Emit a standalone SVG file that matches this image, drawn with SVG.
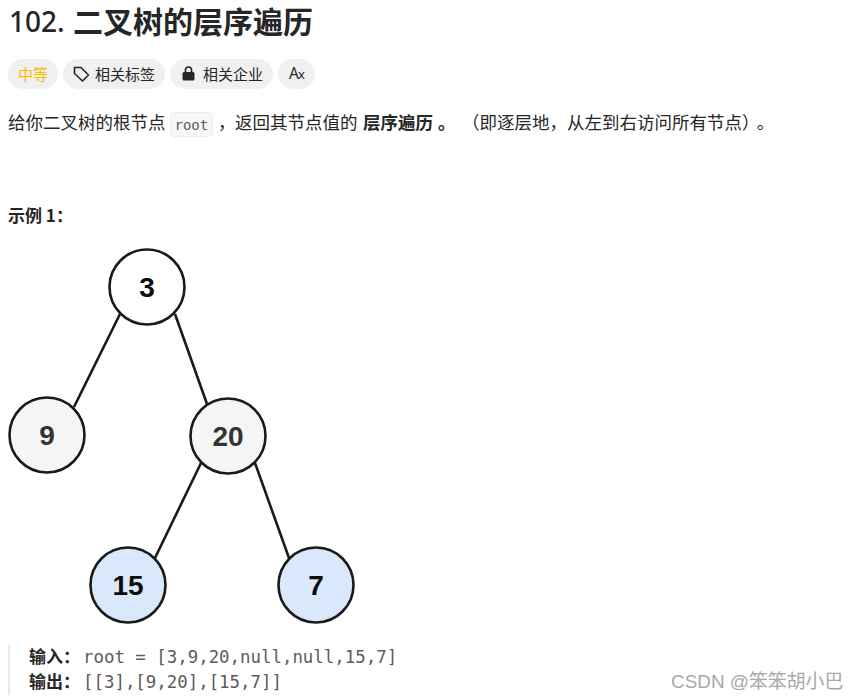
<svg xmlns="http://www.w3.org/2000/svg" width="857" height="700" viewBox="0 0 857 700">
<style>
text{font-family:"Noto Sans CJK SC","Noto Sans",sans-serif;fill:#262626}
.pill{fill:#f0f0f0}
.t{font-size:15px}
.b{font-size:17.500px}
.bold{font-weight:700}
.mono{font-family:"DejaVu Sans Mono","Liberation Mono","Noto Sans CJK SC",monospace;font-size:17.400px;fill:#5c5c5c}
.n{stroke:#1a1a1a;stroke-width:2.600}
.edge{stroke:#1a1a1a;stroke-width:2.600;fill:none}
.num{font-family:"Liberation Sans",Arial,sans-serif;font-weight:700;font-size:28px;text-anchor:middle;fill:#0d0d0d}
.h{font-size:17px}
</style>
<rect width="857" height="700" fill="#fff"/>
<g id="title"><text x="9" y="32" font-size="28" font-weight="500" style="font-family:'Noto Sans',sans-serif">102.</text><text x="73" y="33" font-size="30" class="bold" style="font-family:'Liberation Sans','Noto Sans CJK SC',sans-serif">二叉树的层序遍历</text></g>
<g id="tag-difficulty"><rect class="pill" x="8" y="59" width="50" height="30" rx="15"/><text class="t" x="18" y="80" style="fill:#ffb800">中等</text></g>
<g id="tag-topics"><rect class="pill" x="63" y="59" width="102" height="30" rx="15"/><path d="M74.500 67.500h6.500l7.500 7.500-6 6-8-7.500z M77.500 70.500h.1" fill="none" stroke="#262626" stroke-width="1.600" stroke-linejoin="round"/><text class="t" x="95" y="80">相关标签</text></g>
<g id="tag-companies"><rect class="pill" x="170" y="59" width="103" height="30" rx="15"/><rect x="182.500" y="72" width="12" height="8.500" rx="1.500" fill="#262626"/><path d="M185.500 72.500v-2.500a3 3 0 0 1 6 0v2.500" fill="none" stroke="#262626" stroke-width="1.700"/><text class="t" x="203" y="80">相关企业</text></g>
<g id="tag-translate"><rect class="pill" x="278" y="59" width="37" height="30" rx="15"/><text x="289" y="79" font-size="15.500" style="font-family:'Noto Sans',sans-serif">A</text><text x="298" y="79" font-size="13" style="font-family:'Noto Sans',sans-serif">x</text></g>
<g id="description"><text class="b" x="8" y="129">给你二叉树的根节点</text><rect x="170.500" y="112.500" width="42" height="24" rx="4" fill="#f7f7f7" stroke="#ececec"/><text x="174.500" y="130" font-size="14" style="font-family:'DejaVu Sans Mono',monospace;fill:#5c5c5c">root</text><text class="b" x="218" y="129">，</text><text class="b" x="235" y="129">返回其节点值的</text><text class="b bold" x="363" y="129">层序遍历</text><text class="b bold" x="438" y="129">。</text><text class="b" x="462" y="129">（即逐层地，从左到右访问所有节点）<tspan dx="6">。</tspan></text></g>
<g id="example-title"><text class="bold h" x="8" y="222">示例 1：</text></g>
<g id="connectors">
<line class="edge" x1="120" y1="314" x2="74" y2="407"/>
<line class="edge" x1="175" y1="314" x2="207" y2="404"/>
<line class="edge" x1="201" y1="463" x2="155" y2="558"/>
<line class="edge" x1="255" y1="463" x2="289" y2="558"/>
</g>
<g id="node-3"><circle cx="147" cy="287" r="37.500" class="n" fill="#fff"/><text class="num" x="147" y="297">3</text></g>
<g id="node-9"><circle cx="47" cy="435" r="37.500" class="n" fill="#f5f5f5"/><text class="num" x="47" y="445" style="fill:#333">9</text></g>
<g id="node-20"><circle cx="228" cy="436" r="37.500" class="n" fill="#f5f5f5"/><text class="num" x="228" y="446" style="fill:#333">20</text></g>
<g id="node-15"><circle cx="128" cy="585" r="37.500" class="n" fill="#dae8fc"/><text class="num" x="128" y="595">15</text></g>
<g id="node-7"><circle cx="316" cy="585" r="37.500" class="n" fill="#dae8fc"/><text class="num" x="316" y="595">7</text></g>
<g id="example"><rect x="8" y="645" width="2" height="50" fill="#e8e8e8"/><text class="bold h" x="29" y="663">输入：</text><text class="mono" x="83" y="663">root = [3,9,20,null,null,15,7]</text><text class="bold h" x="29" y="688">输出：</text><text class="mono" x="83" y="688">[[3],[9,20],[15,7]]</text></g>
<g id="watermark"><text x="671" y="688" font-size="18.900" style="font-family:'Liberation Sans','Noto Sans CJK SC',sans-serif;fill:#a8a8a8">CSDN @笨笨胡小巴</text></g>
</svg>
